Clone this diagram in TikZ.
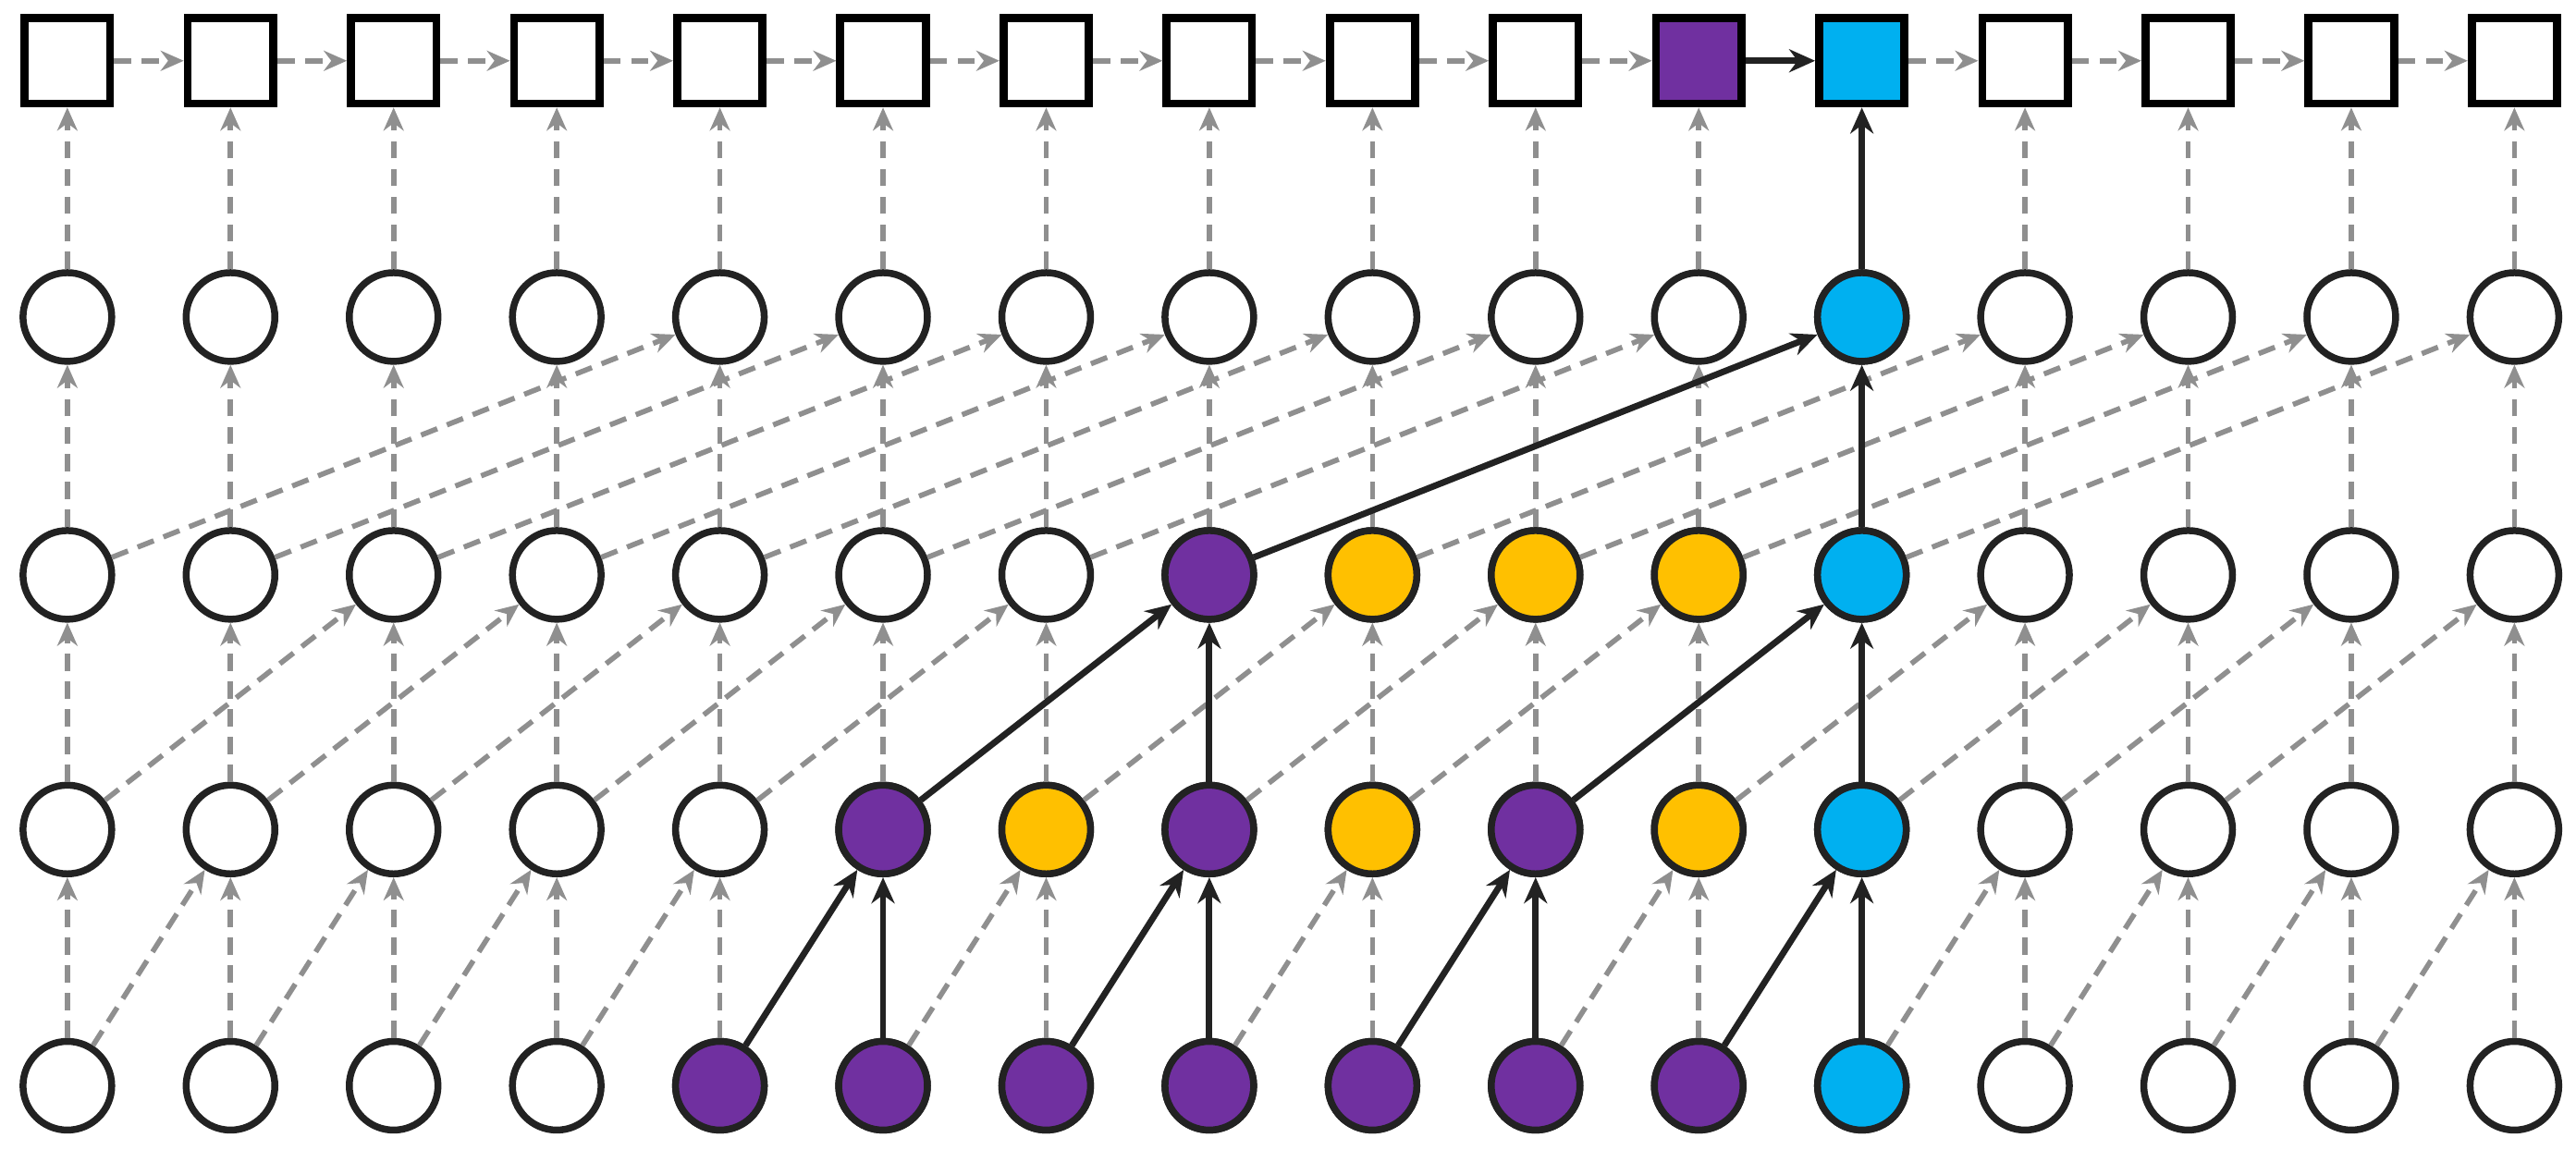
\documentclass[tikz,border=0pt]{standalone}
\usetikzlibrary{arrows.meta}
\definecolor{pp}{HTML}{7030A0}
\definecolor{yy}{HTML}{FFC000}
\definecolor{cc}{HTML}{00B0F0}
\definecolor{gg}{HTML}{8F8F8F}
\definecolor{dk}{HTML}{222222}
\tikzset{
 nd/.style={circle,draw=dk,line width=1.2pt,minimum size=0.54cm,inner sep=0pt,fill=white},
 sq/.style={rectangle,draw=black,line width=1.4pt,minimum size=0.52cm,inner sep=0pt,fill=white},
 ge/.style={draw=gg,dashed,line width=0.9pt,dash pattern=on 3pt off 1.8pt,-{Stealth[length=4pt,width=3.5pt]}},
 be/.style={draw=dk,line width=1.1pt,-{Stealth[length=4.5pt,width=4pt]}}
}
\begin{document}
\begin{tikzpicture}
\useasboundingbox (0,0) rectangle (15.68,7);
\def\X#1{0.41+0.993*#1}
% nodes
\foreach \i in {0,...,15}{
 \node[nd] (a\i) at ({\X{\i}},0.39) {};
 \node[nd] (b\i) at ({\X{\i}},1.95) {};
 \node[nd] (c\i) at ({\X{\i}},3.50) {};
 \node[nd] (d\i) at ({\X{\i}},5.07) {};
 \node[sq] (s\i) at ({\X{\i}},6.63) {};
}
\foreach \i in {4,...,10}{\node[nd,fill=pp] at (a\i) {};}
\node[nd,fill=cc] at (a11) {};
\foreach \i in {5,7,9}{\node[nd,fill=pp] at (b\i) {};}
\foreach \i in {6,8,10}{\node[nd,fill=yy] at (b\i) {};}
\node[nd,fill=cc] at (b11) {};
\node[nd,fill=pp] at (c7) {};
\foreach \i in {8,9,10}{\node[nd,fill=yy] at (c\i) {};}
\node[nd,fill=cc] at (c11) {};
\node[nd,fill=cc] at (d11) {};
\node[sq,fill=pp] at (s10) {};
\node[sq,fill=cc] at (s11) {};
% gray edges
\foreach \i in {0,...,15}{
 \ifnum\i=5\else\ifnum\i=7\else\ifnum\i=9\else\ifnum\i=11\else
 \path[ge] (a\i) -- (b\i);\fi\fi\fi\fi
 \ifnum\i=7\else\ifnum\i=11\else\path[ge] (b\i) -- (c\i);\fi\fi
 \ifnum\i=11\else\path[ge] (c\i) -- (d\i);\path[ge] (d\i) -- (s\i);\fi
}
\foreach \i [evaluate=\i as \j using int(\i+1)] in {0,...,14}{
 \ifnum\i=4\else\ifnum\i=6\else\ifnum\i=8\else\ifnum\i=10\else
 \path[ge] (a\i) -- (b\j);\fi\fi\fi\fi
 \ifnum\i=10\else\path[ge] (s\i) -- (s\j);\fi
}
\foreach \i [evaluate=\i as \j using int(\i+2)] in {0,...,13}{
 \ifnum\i=5\else\ifnum\i=9\else\path[ge] (b\i) -- (c\j);\fi\fi
}
\foreach \i [evaluate=\i as \j using int(\i+4)] in {0,...,11}{
 \ifnum\i=7\else\path[ge] (c\i) -- (d\j);\fi
}
% black edges
\foreach \i/\j in {4/5,5/5,6/7,7/7,8/9,9/9,10/11,11/11}{\path[be] (a\i) -- (b\j);}
\foreach \i/\j in {5/7,7/7,9/11,11/11}{\path[be] (b\i) -- (c\j);}
\foreach \i/\j in {7/11,11/11}{\path[be] (c\i) -- (d\j);}
\path[be] (d11) -- (s11);
\path[be] (s10) -- (s11);
\end{tikzpicture}
\end{document}
